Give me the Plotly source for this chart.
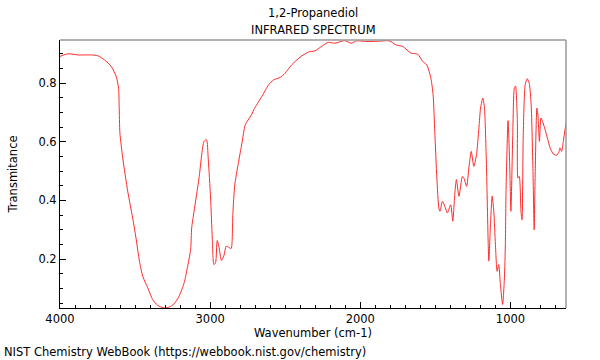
import plotly.graph_objects as go

title_line1 = "1,2-Propanediol"
title_line2 = "INFRARED SPECTRUM"
x_title = "Wavenumber (cm-1)"
y_title = "Transmitance"
footer = "NIST Chemistry WebBook (https://webbook.nist.gov/chemistry)"

wavenumber = [
    4000, 3946, 3880, 3792, 3747, 3703, 3659, 3626, 3610, 3606, 3601, 3582, 3549, 3516, 3494,
    3471, 3449, 3416, 3383, 3350, 3306, 3273, 3240, 3207, 3173, 3152, 3130, 3123, 3107, 3074,
    3041, 3024, 3013, 2997, 2986, 2975, 2964, 2953, 2942, 2925, 2909, 2893, 2876, 2860, 2849,
    2836, 2814, 2788, 2766, 2721, 2710, 2655, 2611, 2578, 2534, 2501, 2457, 2402, 2346, 2302,
    2258, 2214, 2170, 2104, 2060, 2026, 2005, 1972, 1905, 1806, 1762, 1717, 1662, 1618, 1585,
    1557, 1530, 1515, 1504, 1490, 1477, 1469, 1453, 1437, 1420, 1398, 1384, 1371, 1360, 1343,
    1320, 1310, 1292, 1277, 1261, 1244, 1226, 1210, 1199, 1184, 1173, 1160, 1148, 1144, 1133,
    1122, 1111, 1100, 1089, 1078, 1067, 1052, 1040, 1034, 1029, 1016, 1005, 997, 985, 974,
    966, 954, 950, 941, 930, 923, 915, 902, 888, 875, 862, 850, 842, 835, 824,
    817, 807, 797, 787, 769, 751, 736, 714, 692, 676, 670, 659, 648, 630,
]
transmittance = [
    0.891, 0.900, 0.896, 0.896, 0.893, 0.879, 0.857, 0.823, 0.783, 0.720, 0.630, 0.544, 0.431, 0.340, 0.272,
    0.193, 0.141, 0.102, 0.062, 0.042, 0.033, 0.036, 0.047, 0.073, 0.119, 0.170, 0.232, 0.306, 0.363, 0.476,
    0.601, 0.607, 0.544, 0.408, 0.272, 0.181, 0.187, 0.263, 0.244, 0.195, 0.210, 0.244, 0.240, 0.236, 0.352,
    0.453, 0.522, 0.596, 0.658, 0.695, 0.709, 0.755, 0.794, 0.811, 0.819, 0.834, 0.862, 0.888, 0.906, 0.910,
    0.925, 0.939, 0.936, 0.945, 0.936, 0.944, 0.944, 0.942, 0.942, 0.944, 0.930, 0.925, 0.902, 0.899, 0.874,
    0.862, 0.817, 0.760, 0.635, 0.476, 0.374, 0.363, 0.397, 0.380, 0.357, 0.385, 0.329, 0.420, 0.471, 0.414,
    0.482, 0.476, 0.448, 0.510, 0.567, 0.516, 0.556, 0.647, 0.715, 0.749, 0.715, 0.522, 0.249, 0.193, 0.317,
    0.414, 0.363, 0.249, 0.158, 0.181, 0.113, 0.045, 0.136, 0.249, 0.442, 0.672, 0.522, 0.363, 0.613, 0.783,
    0.790, 0.670, 0.476, 0.482, 0.363, 0.334, 0.613, 0.794, 0.815, 0.800, 0.726, 0.499, 0.300, 0.499, 0.715,
    0.692, 0.601, 0.681, 0.670, 0.641, 0.607, 0.579, 0.558, 0.554, 0.567, 0.579, 0.567, 0.601, 0.664,
]

x_range = [4000, 630]
y_range = [0.033, 0.947]

FONT = "DejaVu Sans, Liberation Sans, sans-serif"
FS = 11.5

fig = go.Figure()
fig.add_trace(go.Scatter(
    x=wavenumber, y=transmittance, mode="lines",
    line=dict(color="#ff2a2a", width=1, shape="spline", smoothing=0.6),
    hoverinfo="skip", showlegend=False,
))

fig.update_layout(
    width=600, height=360,
    margin=dict(l=57, r=34, t=40, b=52),
    paper_bgcolor="white", plot_bgcolor="white",
    font=dict(family=FONT, size=FS, color="black"),
    showlegend=False,
    xaxis=dict(
        range=x_range, showgrid=False, zeroline=False,
        showline=True, linecolor="black", linewidth=1, mirror=False,
        tick0=0, dtick=1000, ticks="inside", ticklen=6, tickcolor="black",
        tickfont=dict(size=FS),
        minor=dict(tick0=0, dtick=100, ticks="inside", ticklen=3, tickcolor="black"),
        title=dict(text=x_title, font=dict(size=FS), standoff=4),
    ),
    yaxis=dict(
        range=y_range, showgrid=False, zeroline=False,
        showline=True, linecolor="black", linewidth=1, mirror=False,
        tick0=0, dtick=0.2, ticks="inside", ticklen=6, tickcolor="black",
        tickfont=dict(size=FS),
        minor=dict(tick0=0, dtick=0.05, ticks="inside", ticklen=3, tickcolor="black"),
        title=dict(text=y_title, font=dict(size=FS), standoff=18),
    ),
    shapes=[
        dict(type="line", xref="paper", yref="paper", x0=0, x1=1, y0=1, y1=1,
             line=dict(color="#999999", width=1.5)),
        dict(type="line", xref="paper", yref="paper", x0=1, x1=1, y0=0, y1=1,
             line=dict(color="#999999", width=1.5)),
    ],
    annotations=[
        dict(text=title_line1, xref="paper", yref="paper", x=0.5, y=1, yshift=27,
             showarrow=False, xanchor="center", yanchor="middle", font=dict(size=FS)),
        dict(text=title_line2, xref="paper", yref="paper", x=0.5, y=1, yshift=10,
             showarrow=False, xanchor="center", yanchor="middle", font=dict(size=FS)),
        dict(text=footer, xref="paper", yref="paper", x=0, y=0, xshift=-58, yshift=-44,
             showarrow=False, xanchor="left", yanchor="middle", font=dict(size=FS)),
    ],
)

fig.write_html(
    "out.html",
    config={"displayModeBar": False},
    post_script="document.body.style.margin='0px';document.body.style.overflow='hidden';",
)
